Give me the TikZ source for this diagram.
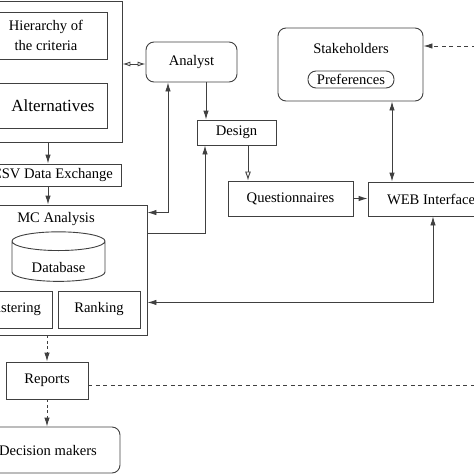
\documentclass[tikz,border=0pt]{standalone}
\usepackage{fontspec}
\setmainfont{Liberation Serif}
\usetikzlibrary{arrows.meta,shapes.geometric}

\begin{document}
\begin{tikzpicture}[x=1pt,y=-1pt,
    every node/.style={font=\fontsize{14.6}{20}\selectfont, inner sep=0pt},
    box/.style={draw=black!75, line width=0.9pt, rectangle},
    rbox/.style={box, rounded corners=8pt},
    conn/.style={draw=black!75, line width=0.9pt, -{Latex[length=9pt,width=5.5pt]}},
    both/.style={conn, {Latex[length=9pt,width=5.5pt]}-{Latex[length=9pt,width=5.5pt]}},
    hollow/.style={draw=black!75, line width=0.9pt, -{Latex[open,length=9pt,width=6pt]}},
    dashline/.style={conn, dash pattern=on 4pt off 3.5pt}]
    \useasboundingbox (0,0) rectangle (474,474);
    \clip (0,0) rectangle (474,474);

    % left column
    \node[box, minimum width=142pt, minimum height=141pt] (model) at (51,71.5) {};
    \node[box, minimum width=122pt, minimum height=47pt, align=center] (hier) at (46,35.5) {Hierarchy of\\the criteria};
    \node[box, minimum width=108pt, minimum height=45pt, font=\fontsize{17}{20}\selectfont] (alt) at (53,105.5) {Alternatives};
    \node[box, minimum width=137pt, minimum height=22pt] (csv) at (52.5,175) {CSV Data Exchange};
    \node[box, minimum width=167pt, minimum height=130pt] (mc) at (63.5,270) {};
    \node (mctitle) at (56,219) {MC Analysis};
    \node[cylinder, shape border rotate=90, draw=black!75, line width=0.9pt, aspect=0.35,
          minimum width=93pt, minimum height=45pt, text height=21pt, text depth=0pt] (db) at (58.5,261.5) {Database};
    \node[box, minimum width=83pt, minimum height=37pt] (clus) at (10.5,309.5) {Clustering};
    \node[box, minimum width=82pt, minimum height=37pt] (rank) at (99,309.5) {Ranking};
    \node[box, minimum width=82pt, minimum height=37pt] (reports) at (47,380.5) {Reports};
    \node[rbox, minimum width=144pt, minimum height=46pt] (dm) at (48,450) {Decision makers};

    % middle and right
    \node[rbox, minimum width=91pt, minimum height=40pt] (analyst) at (191.5,62) {Analyst};
    \node[box, minimum width=79pt, minimum height=25pt] (design) at (236.5,132.5) {Design};
    \node[box, minimum width=125pt, minimum height=35pt] (quest) at (290.5,198.5) {Questionnaires};
    \node[box, minimum width=126pt, minimum height=34pt] (web) at (431,199) {WEB Interface};
    \node[rbox, minimum width=145pt, minimum height=73pt] (stake) at (350.5,64.5) {};
    \node (stitle) at (351,49) {Stakeholders};
    \node[rbox, minimum width=86pt, minimum height=17pt] (pref) at (351,79.5) {Preferences};
    \coordinate (farright) at (495,385);

    % connectors
    \draw[draw=black!75, line width=0.9pt, {Latex[open,length=8pt,width=5pt]}-{Latex[open,length=8pt,width=5pt]}]
        ([yshift=-2]analyst.west) -- ([yshift=-2]analyst.west -| model.east);
    \draw[conn] ([xshift=14.5]analyst.south) -- ([xshift=14.5]analyst.south |- design.north);
    \draw[both] ([yshift=-8]mc.north east) -| ([xshift=-23.5]analyst.south);
    \draw[conn] ([yshift=-29]mc.north east) -| ([xshift=-31.5]design.south);
    \draw[hollow] ([xshift=11.5]design.south) -- ([xshift=11.5]design.south |- quest.north);
    \draw[conn] (quest.east) -- (quest.east -| web.west);
    \draw[both] ([xshift=41.5]stake.south) -- ([xshift=41.5]stake.south |- web.north);
    \draw[both] ([yshift=33]mc.south east) -| ([xshift=2]web.south);
    \draw[conn] ([xshift=-3]model.south) -- ([xshift=-3]model.south |- csv.north);
    \draw[conn] ([xshift=-4.5]csv.south) -- ([xshift=-4.5]csv.south |- mc.north);
    \draw[dashline, dash pattern=on 3pt off 2.5pt] (mc.south -| reports) -- (reports.north);
    \draw[dashline, dash pattern=on 3pt off 2.5pt] (reports.south) -- (reports.south |- dm.north);
    \draw[dashline] ([yshift=-4.5]reports.east) -- (farright) |- ([yshift=18.5]stake.east);
\end{tikzpicture}
\end{document}
